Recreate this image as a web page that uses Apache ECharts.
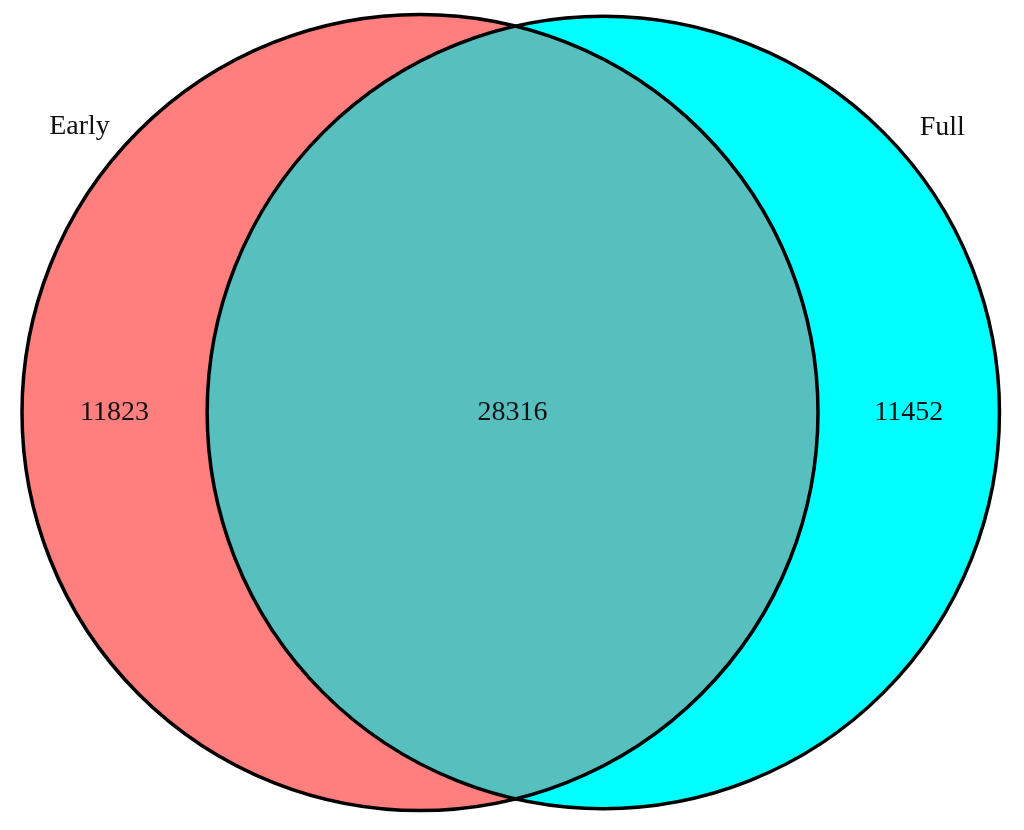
<!DOCTYPE html>
<html><head><meta charset="utf-8">
<script src="https://cdn.jsdelivr.net/npm/echarts@6/dist/echarts.min.js"></script>
<style>html,body{margin:0;padding:0;background:#fff}#c{width:1024px;height:830px}</style>
</head><body><div id="c"></div>
<script>
// ---- data ----
const setNames = ['Early', 'Full'];
const onlyCounts = [11823, 11452];
const sharedCount = 28316;

// ---- geometry derived from the counts (area-proportional Venn) ----
const totals = [onlyCounts[0] + sharedCount, onlyCounts[1] + sharedCount];
const radii = totals.map(t => Math.sqrt(t / Math.PI));
function lensArea(d, r1, r2) {
  if (d >= r1 + r2) return 0;
  if (d <= Math.abs(r1 - r2)) return Math.PI * Math.min(r1, r2) ** 2;
  const a1 = Math.acos((d * d + r1 * r1 - r2 * r2) / (2 * d * r1));
  const a2 = Math.acos((d * d + r2 * r2 - r1 * r1) / (2 * d * r2));
  return r1 * r1 * (a1 - Math.sin(2 * a1) / 2) + r2 * r2 * (a2 - Math.sin(2 * a2) / 2);
}
let lo = Math.abs(radii[0] - radii[1]) + 1e-9, hi = radii[0] + radii[1];
for (let i = 0; i < 100; i++) {
  const mid = (lo + hi) / 2;
  if (lensArea(mid, radii[0], radii[1]) > sharedCount) lo = mid; else hi = mid;
}
const dist = (lo + hi) / 2;

// ---- layout (pixels) ----
const W = 1024, H = 830;
const leftCenterPx = [420, 412.5];
const k = 398 / radii[0]; // px per unit

const COLORS = { left: '#FF7F7F', right: '#00FFFF', both: '#58BFBF', stroke: '#000' };
const FONT = '28px "Liberation Serif", "Times New Roman", serif';

const chart = echarts.init(document.getElementById('c'));
chart.setOption({
  animation: false,
  backgroundColor: '#fff',
  grid: { left: 0, right: 0, top: 0, bottom: 0 },
  xAxis: { type: 'value', min: -leftCenterPx[0] / k, max: (W - leftCenterPx[0]) / k, show: false },
  yAxis: { type: 'value', min: -(H - leftCenterPx[1]) / k, max: leftCenterPx[1] / k, show: false },
  series: [{
    type: 'custom',
    clip: false,
    data: [[0, dist]],
    renderItem: function (params, api) {
      const c1 = api.coord([0, 0]);
      const c2 = api.coord([dist, 0]);
      const R1 = api.size([radii[0], 0])[0];
      const R2 = api.size([radii[1], 0])[0];
      const a = (dist * dist + radii[0] ** 2 - radii[1] ** 2) / (2 * dist);
      const h = Math.sqrt(radii[0] ** 2 - a * a);
      const phi1 = Math.atan2(h, a);
      const phi2 = Math.atan2(h, dist - a);
      const pts = [];
      const N = 240;
      for (let i = 0; i <= N; i++) {
        const t = -phi1 + 2 * phi1 * i / N;
        pts.push([c1[0] + R1 * Math.cos(t), c1[1] - R1 * Math.sin(t)]);
      }
      for (let i = 0; i <= N; i++) {
        const t = Math.PI - phi2 + 2 * phi2 * i / N;
        pts.push([c2[0] + R2 * Math.cos(t), c2[1] - R2 * Math.sin(t)]);
      }
      const txt = (x, y, s) => ({
        type: 'text', x: x, y: y,
        style: { text: s, font: FONT, fill: '#111', align: 'center', verticalAlign: 'middle' }
      });
      const labelDist = 1.117;
      const ang1 = 140 * Math.PI / 180, ang2 = 40 * Math.PI / 180;
      return {
        type: 'group',
        children: [
          { type: 'circle', shape: { cx: c1[0], cy: c1[1], r: R1 }, style: { fill: COLORS.left } },
          { type: 'circle', shape: { cx: c2[0], cy: c2[1], r: R2 }, style: { fill: COLORS.right } },
          { type: 'polygon', shape: { points: pts }, style: { fill: COLORS.both } },
          { type: 'circle', shape: { cx: c1[0], cy: c1[1], r: R1 }, style: { fill: 'none', stroke: COLORS.stroke, lineWidth: 3.5 } },
          { type: 'circle', shape: { cx: c2[0], cy: c2[1], r: R2 }, style: { fill: 'none', stroke: COLORS.stroke, lineWidth: 3.5 } },
          txt(((c1[0] - R1) + (c2[0] - R2)) / 2, c1[1], String(onlyCounts[0])),
          txt(((c2[0] - R2) + (c1[0] + R1)) / 2, c1[1], String(sharedCount)),
          txt(((c1[0] + R1) + (c2[0] + R2)) / 2, c1[1], String(onlyCounts[1])),
          txt(c1[0] + labelDist * R1 * Math.cos(ang1), c1[1] - labelDist * R1 * Math.sin(ang1), setNames[0]),
          txt(c2[0] + labelDist * R2 * Math.cos(ang2), c2[1] - labelDist * R2 * Math.sin(ang2), setNames[1])
        ]
      };
    }
  }]
});
</script>
</body></html>
